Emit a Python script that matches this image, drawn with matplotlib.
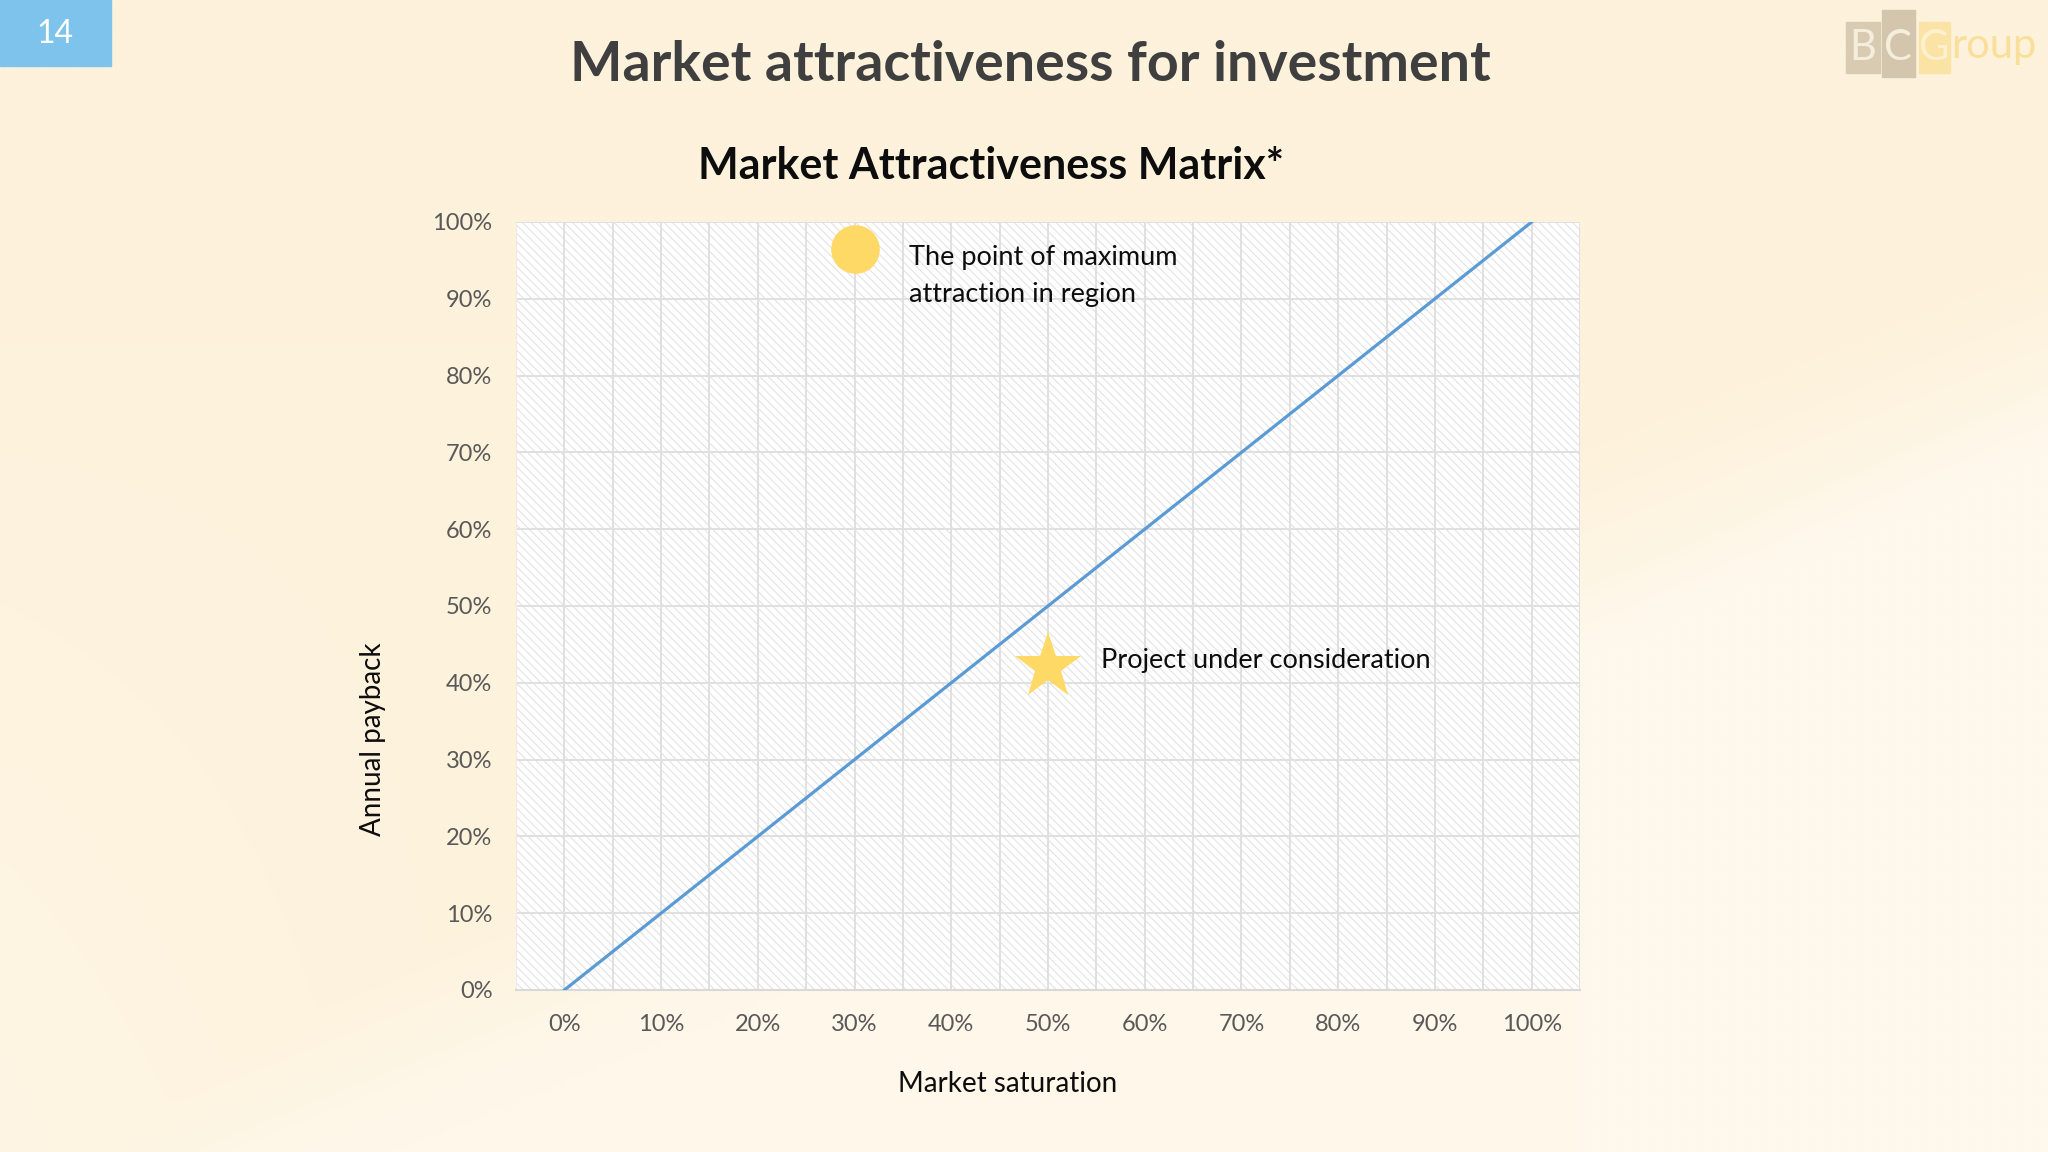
import matplotlib
matplotlib.use('Agg')
import matplotlib.pyplot as plt
import numpy as np
from matplotlib.patches import Rectangle
from matplotlib.ticker import FuncFormatter, MultipleLocator

plt.rcParams['font.family'] = ['Lato', 'DejaVu Sans']
plt.rcParams['hatch.color'] = '#E3E3E3'
plt.rcParams['hatch.linewidth'] = 0.8

# Chart data
line_x = [0.0, 1.0]
line_y = [0.0, 1.0]
max_point = (0.30, 0.965)
project_point = (0.50, 0.42)
max_label = 'The point of maximum\nattraction in region'
project_label = 'Project under consideration'
x_ticks = [i / 10 for i in range(11)]
y_ticks = [i / 10 for i in range(11)]

fig = plt.figure(figsize=(20.48, 11.52), dpi=100)

# Slide background: cream with soft lighter diagonal band
bg = fig.add_axes([0, 0, 1, 1], zorder=-10)
h, w = 180, 320
yy, xx = np.mgrid[0:h, 0:w]
u = xx / w
v = yy / h
base = np.array([253, 242, 220]) / 255
light = np.array([255, 250, 240]) / 255
edge = 0.99 - 0.72 * u
band = np.clip((v - edge) * 6 + 0.2, 0, 1)
right = np.clip((v - (0.46 - 0.18 * (u - 0.77) / 0.23)) * 10, 0, 1) * (u > 0.77)
left = np.clip((0.25 - u) * 2.5, 0, 1) * np.clip((v - 0.3) * 1.5, 0, 1)
t = np.clip(np.maximum.reduce([band * 0.7, right * 0.85, left * 0.6]), 0, 1)
img = base[None, None, :] * (1 - t[..., None]) + light[None, None, :] * t[..., None]
bg.imshow(img, aspect='auto', extent=[0, 1, 0, 1], interpolation='bicubic')
bg.set_xlim(0, 1)
bg.set_ylim(0, 1)
bg.axis('off')

# page number box
fig.patches.append(Rectangle((0, 1 - 66 / 1152), 111 / 2048, 66 / 1152,
                             transform=fig.transFigure, color='#7DC3EC', zorder=1))
fig.text(55 / 2048, 1 - 34 / 1152, '14', color='white', fontsize=23,
         ha='center', va='center')

# faded logo
for (x0, y0, x1, y1, c) in [(1846, 22, 1880, 73, '#D8CBB2'),
                            (1882, 10, 1915, 77, '#D3C6AC'),
                            (1919, 22, 1950, 73, '#FBE3A6')]:
    fig.patches.append(Rectangle((x0 / 2048, 1 - y1 / 1152), (x1 - x0) / 2048, (y1 - y0) / 1152,
                                 transform=fig.transFigure, color=c, zorder=1))
for ch, xc, col in [('B', 1863, '#F6EEDD'), ('C', 1898, '#F6EEDD'), ('G', 1934, '#FDF0CF')]:
    fig.text(xc / 2048, 1 - 48 / 1152, ch, color=col, fontsize=30, ha='center', va='center')
fig.text(1951 / 2048, 1 - 46 / 1152, 'roup', color='#F9DF9A', fontsize=30, ha='left', va='center')

# titles
fig.text(1030 / 2048, 1 - 65 / 1152, 'Market attractiveness for investment',
         fontsize=40, fontweight='bold', color='#3F3F3F', ha='center', va='center')
fig.text(991 / 2048, 1 - 166 / 1152, 'Market Attractiveness Matrix*',
         fontsize=31, fontweight='bold', color='#0D0D0D', ha='center', va='center')

ax = fig.add_axes([516 / 2048, 1 - 990 / 1152, 1064 / 2048, 768 / 1152])
ax.set_facecolor('white')
ax.add_patch(Rectangle((0, 0), 1, 1, transform=ax.transAxes, facecolor='white',
                       edgecolor='#E3E3E3', hatch='\\\\\\\\', linewidth=0, zorder=0))

ax.set_xlim(-0.05, 1.05)
ax.set_ylim(0, 1)
ax.set_xticks(x_ticks)
ax.set_yticks(y_ticks)
ax.xaxis.set_minor_locator(MultipleLocator(0.05))
pct = FuncFormatter(lambda v, p: f'{v * 100:.0f}%')
ax.xaxis.set_major_formatter(pct)
ax.yaxis.set_major_formatter(pct)
ax.tick_params(axis='both', length=0, labelsize=17, labelcolor='#595959', pad=17)
ax.tick_params(axis='x', which='minor', length=0)
ax.grid(True, axis='x', which='both', color='#E0E0E0', linewidth=1.4, zorder=1)
ax.grid(True, axis='y', which='major', color='#E0E0E0', linewidth=1.4, zorder=1)
ax.set_axisbelow(True)
for s in ['top', 'right']:
    ax.spines[s].set_visible(False)
ax.spines['left'].set_color('#ECECEC')
ax.spines['bottom'].set_color('#D9D9D9')
ax.spines['bottom'].set_linewidth(1.5)

ax.plot(line_x, line_y, color='#5B9BD5', linewidth=2.3, zorder=3)
ax.plot(*max_point, marker='o', markersize=35, color='#FFD966', markeredgewidth=0, zorder=4)
ax.plot(*project_point, marker='*', markersize=50, color='#FFD966', markeredgewidth=0, zorder=4)

ax.text(0.356, 0.930, max_label, fontsize=19.5, color='#0D0D0D', ha='left', va='center',
        linespacing=1.6, zorder=5)
ax.text(0.555, 0.4286, project_label, fontsize=19.5, color='#0D0D0D', ha='left', va='center',
        zorder=5)

ax.set_xlabel('Market saturation', fontsize=20, color='#0D0D0D')
ax.xaxis.set_label_coords(0.462, -0.105)
ax.set_ylabel('Annual payback', fontsize=20, color='#0D0D0D')
ax.yaxis.set_label_coords(-0.122, 0.326)

fig.savefig('out.png', dpi=100)
